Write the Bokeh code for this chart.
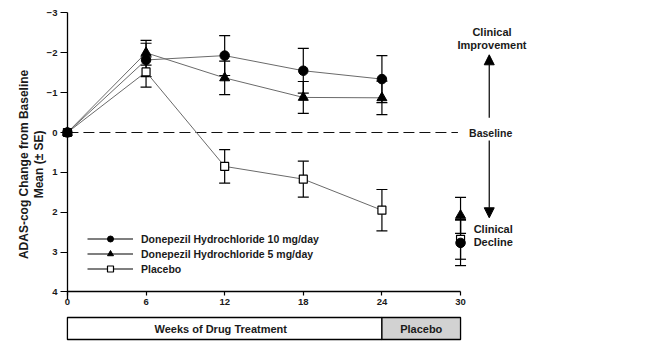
import math
from bokeh.plotting import figure
from bokeh.models import (Range1d, FixedTicker, ColumnDataSource, Whisker, TeeHead,
                          Arrow, NormalHead, Legend, LegendItem)
from bokeh.core.properties import value
from bokeh.embed import file_html
from bokeh.resources import INLINE

# ---------------- data ----------------
weeks = [0, 6, 12, 18, 24]
d10 = [0, -1.82, -1.93, -1.55, -1.34]
d10_se = [0, 0.42, 0.50, 0.56, 0.59]
d5 = [0, -2.00, -1.37, -0.88, -0.87]
d5_se = [0, 0.31, 0.42, 0.40, 0.42]
pl = [0, -1.52, 0.85, 1.17, 1.95]
pl_se = [0, 0.38, 0.42, 0.45, 0.52]

wk30 = [30]
d10_30 = [2.77]
d10_30_se = [0.57]
d5_30 = [2.08]
d5_30_se = [0.45]
pl_30 = [2.68]
pl_30_se = [0.50]

x_ticks = [0, 6, 12, 18, 24, 30]
y_ticks = [-3, -2, -1, 0, 1, 2, 3, 4]
names = ["Donepezil Hydrochloride 10 mg/day", "Donepezil Hydrochloride 5 mg/day", "Placebo"]
y_title = "ADAS-cog Change from Baseline\nMean (\u00b1 SE)"
phase_left = [0, 24]
phase_right = [24, 30]
phase_labels = ["Weeks of Drug Treatment", "Placebo"]
phase_fill = ["white", "#d2d2d2"]

FONT = "Liberation Sans"
TXT = "#1a1a1a"
NAN = float("nan")

p = figure(width=657, height=353, output_backend="svg", toolbar_location=None,
           x_range=Range1d(-5.107, 45.03), y_range=Range1d(5.545, -3.312),
           min_border_left=0, min_border_right=0, min_border_top=0, min_border_bottom=0)
p.outline_line_color = None
p.grid.visible = False

# axes (drawn at fixed data positions inside the frame)
xa = p.xaxis[0]
xa.fixed_location = 4
xa.ticker = FixedTicker(ticks=x_ticks)
xa.bounds = (0, 30)
xa.major_tick_in = 0
xa.major_tick_out = 4
xa.minor_tick_line_color = None
xa.major_label_text_font = FONT
xa.major_label_text_font_style = "bold"
xa.major_label_text_font_size = "9.5px"
xa.major_label_text_color = TXT
xa.major_label_standoff = 3
xa.axis_line_width = 1.3
xa.major_tick_line_width = 1.2

ya = p.yaxis[0]
ya.fixed_location = 0
ya.ticker = FixedTicker(ticks=y_ticks)
ya.bounds = (-3, 4.2)
ya.major_tick_in = 0
ya.major_tick_out = 7
ya.minor_tick_line_color = None
ya.major_label_text_font = FONT
ya.major_label_text_font_style = "bold"
ya.major_label_text_font_size = "9.5px"
ya.major_label_text_color = TXT
ya.major_label_standoff = 3
ya.axis_line_width = 1.3
ya.major_tick_line_width = 1.2

# y-axis title (two rotated lines)
p.text(x=[-2.75], y=[0.8], text=[y_title], angle=math.pi / 2, text_font=value(FONT),
       text_font_style="bold", text_font_size="12px", text_color=TXT,
       text_align="center", text_baseline="middle", text_line_height=1.1)

# baseline
p.line(x=[0, 29.8], y=[0, 0], line_color="#111111", line_width=1.2, line_dash="11 5")

# data lines
LINE = "#6a6a6a"
p.line(x=weeks, y=pl, line_color=LINE, line_width=1)
p.line(x=weeks, y=d5, line_color=LINE, line_width=1)
p.line(x=weeks, y=d10, line_color=LINE, line_width=1)

# error bars
def add_err(xs, ys, ses):
    xs2, up, lo = [], [], []
    for xx, yy, ss in zip(xs, ys, ses):
        if ss > 0:
            xs2.append(xx); up.append(yy + ss); lo.append(yy - ss)
    src = ColumnDataSource(dict(x=xs2, upper=up, lower=lo))
    w = Whisker(base="x", upper="upper", lower="lower", source=src,
                line_color="black", line_width=1.2,
                upper_head=TeeHead(size=11, line_color="black", line_width=1.2),
                lower_head=TeeHead(size=11, line_color="black", line_width=1.2))
    p.add_layout(w)

add_err(weeks + wk30, pl + pl_30, pl_se + pl_30_se)
add_err(weeks + wk30, d5 + d5_30, d5_se + d5_30_se)
add_err(weeks + wk30, d10 + d10_30, d10_se + d10_30_se)

# markers
r_pl = p.scatter(x=weeks + wk30, y=pl + pl_30, marker="square", size=8,
                 fill_color="white", line_color="black", line_width=1.2)
r_d5 = p.scatter(x=weeks + wk30, y=d5 + d5_30, marker="triangle", size=10,
                 fill_color="black", line_color="black")
r_d10 = p.scatter(x=weeks + wk30, y=d10 + d10_30, marker="circle", size=9.5,
                  fill_color="black", line_color="black")

# legend (black key lines, data-less)
lg_lines = [p.line(x=[NAN], y=[NAN], line_color="black", line_width=1.2) for _ in range(3)]
legend = Legend(items=[LegendItem(label=names[0], renderers=[lg_lines[0], r_d10]),
                       LegendItem(label=names[1], renderers=[lg_lines[1], r_d5]),
                       LegendItem(label=names[2], renderers=[lg_lines[2], r_pl])],
                location=(87, 77), padding=0, margin=0, spacing=0,
                glyph_width=46, glyph_height=15, label_height=15, label_standoff=8,
                border_line_color=None, background_fill_alpha=0,
                label_text_font=FONT, label_text_font_style="bold",
                label_text_font_size="10.5px", label_text_color=TXT)
p.add_layout(legend, "center")

# right-hand annotations
p.text(x=[32.3], y=[0], text=["Baseline"], text_font=value(FONT), text_font_style="bold",
       text_font_size="10.5px", text_color=TXT, text_align="center", text_baseline="middle")
p.text(x=[32.4], y=[-2.35], text=["Clinical\nImprovement"], text_font=value(FONT),
       text_font_style="bold", text_font_size="11px", text_color=TXT,
       text_align="center", text_baseline="middle", text_line_height=1.1)
p.text(x=[31.0], y=[2.59], text=["Clinical\nDecline"], text_font=value(FONT),
       text_font_style="bold", text_font_size="11px", text_color=TXT,
       text_align="left", text_baseline="middle", text_line_height=1.1)
p.add_layout(Arrow(end=NormalHead(size=10, fill_color="black", line_color="black"),
                   x_start=32.19, y_start=-0.37, x_end=32.19, y_end=-1.95,
                   line_color="black", line_width=1.2))
p.add_layout(Arrow(end=NormalHead(size=10, fill_color="black", line_color="black"),
                   x_start=32.19, y_start=0.2, x_end=32.19, y_end=2.14,
                   line_color="black", line_width=1.2))

# bottom phase bar
p.quad(left=phase_left, right=phase_right, bottom=5.194, top=4.642, fill_color=phase_fill,
       line_color="black", line_width=1.3)
p.text(x=[11.7, 27.0], y=[4.918, 4.918], text=phase_labels, text_font=value(FONT),
       text_font_style="bold", text_font_size="11px", text_color=TXT,
       text_align="center", text_baseline="middle")

open("out.html", "w").write(file_html(p, INLINE))
